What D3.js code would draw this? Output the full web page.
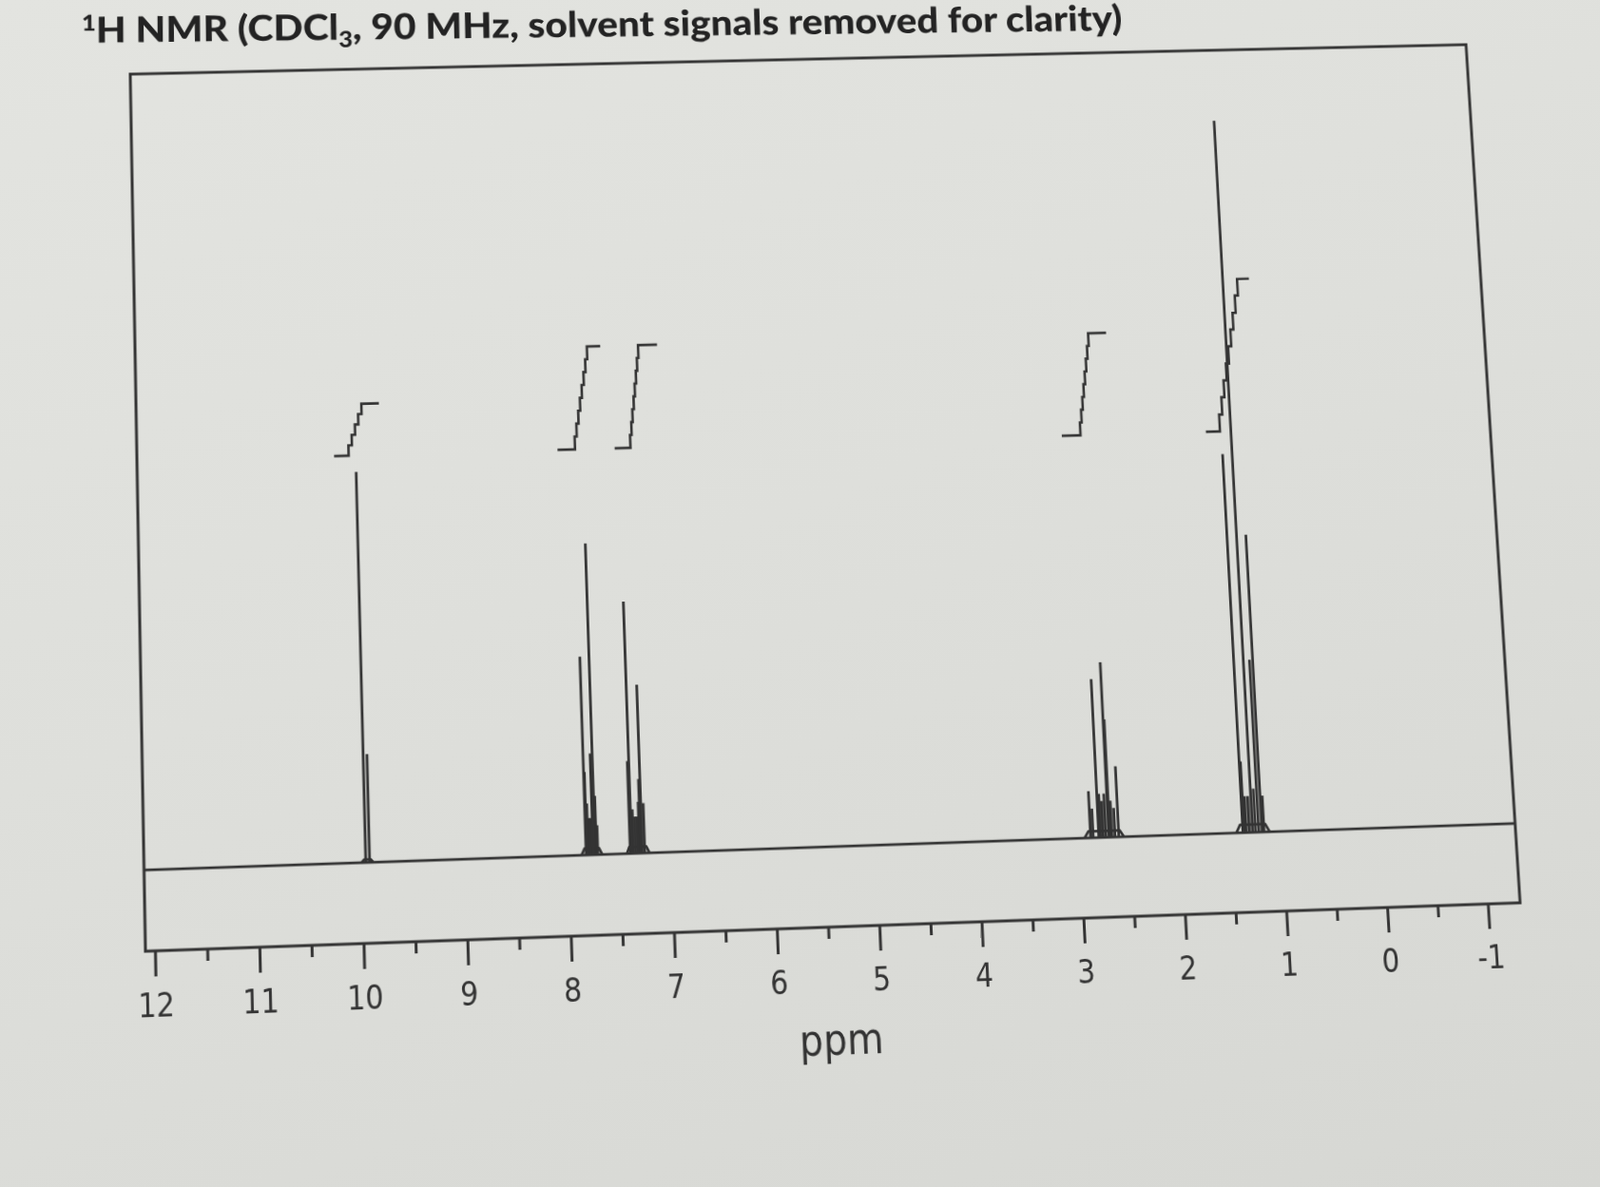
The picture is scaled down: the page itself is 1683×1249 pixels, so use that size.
<!DOCTYPE html>
<html><head><meta charset="utf-8">
<script src="https://cdn.jsdelivr.net/npm/d3@7"></script>
<style>
html,body{margin:0;padding:0;width:1683px;height:1249px;overflow:hidden;}
body{background:linear-gradient(160deg,#e3e4e0 0%,#dedfdb 45%,#d6d7d3 100%);}
#page{position:absolute;left:0;top:0;width:1700px;height:1260px;transform-origin:0 0;}
</style></head>
<body><div id="page"></div>
<script>
// ---------- data ----------
const peakPpm = [
  9.959, 9.922,
  7.826, 7.818, 7.805, 7.79, 7.775, 7.757, 7.737, 7.725, 7.712,
  7.397, 7.383, 7.365, 7.345, 7.325, 7.305, 7.294, 7.280, 7.256,
  2.890, 2.865, 2.809, 2.79, 2.765, 2.74, 2.711, 2.70, 2.68, 2.65, 2.612,
  1.385, 1.372, 1.35, 1.32, 1.289, 1.26, 1.228, 1.196, 1.175
];
const peakHeight = [
  53.5, 14.7,
  27.1, 11.3, 7, 5, 5, 13.8, 42.7, 8, 4,
  12.6, 34.5, 6, 5, 5, 7, 10.1, 23.0, 6.8,
  6.4, 4, 21.8, 6, 5, 6, 24.1, 16.2, 5, 4, 9.7,
  52.6, 9.8, 5, 5, 100, 6, 23.8, 41.2, 5
];
// broad feet under each multiplet: outer-left, inner-left, inner-right, outer-right (ppm), height
const footOuterL = [10.00, 7.87, 7.43, 2.95, 1.45];
const footInnerL = [9.975, 7.84, 7.405, 2.91, 1.41];
const footInnerR = [9.91, 7.70, 7.24, 2.60, 1.16];
const footOuterR = [9.885, 7.67, 7.21, 2.56, 1.12];
const footHeight = [0.4, 0.9, 0.9, 0.9, 1.1];
// integral traces: [ppm, protons]
const intAldehyde = [[10.17,0],[10.028,0.2],[9.994,0.4],[9.96,0.6],[9.926,0.8],[9.892,1],[9.72,1]];
const intArom1 = [[7.98,0],[7.808,0.25],[7.787,0.5],[7.765,0.75],[7.744,1],[7.723,1.25],[7.701,1.5],[7.68,1.75],[7.659,2],[7.527,2]];
const intArom2 = [[7.418,0],[7.262,0.25],[7.246,0.5],[7.231,0.75],[7.215,1],[7.2,1.25],[7.184,1.5],[7.169,1.75],[7.153,2],[6.965,2]];
const intCH2 = [[2.982,0],[2.795,0.25],[2.777,0.5],[2.759,0.75],[2.741,1],[2.723,1.25],[2.705,1.5],[2.687,1.75],[2.669,2],[2.489,2]];
const intCH3 = [[1.54,0],[1.398,0.33],[1.366,0.67],[1.335,1],[1.303,1.33],[1.271,1.67],[1.239,2],[1.208,2.33],[1.176,2.67],[1.144,3],[1.024,3]];
const majorTicks = [12,11,10,9,8,7,6,5,4,3,2,1,0,-1];
const tickLabels = ["12","11","10","9","8","7","6","5","4","3","2","1","0","-1"];
const minorTicks = [11.5,10.5,9.5,8.5,7.5,6.5,5.5,4.5,3.5,2.5,1.5,0.5,-0.5];
const titleMain = "H NMR (CDCl";
const titleRest = ", 90 MHz, solvent signals removed for clarity)";
const xLabel = "ppm";

// ---------- layout (flat page frame) ----------
const X0 = 150, Y0 = 100, W = 1440, H = 920;
const ink = "#333333";
const x = d3.scaleLinear().domain([12, -1]).range([X0 + W*0.006774, X0 + W*0.976]);
const y = d3.scaleLinear().domain([0, 100]).range([Y0 + H*0.91, Y0 + H*0.0839]);
const yInt = d3.scaleLinear().domain([0, 3]).range([Y0 + H*0.449, Y0 + H*(0.449 - 3*0.0592)]);

const svg = d3.select("#page").append("svg").attr("width", 1700).attr("height", 1260);

// title
const title = svg.append("text")
  .attr("x", 99.4).attr("y", Y0 - 35)
  .attr("transform", `rotate(0.57, 99.4, ${Y0 - 35})`)
  .attr("font-family", "Lato, 'Open Sans', sans-serif")
  .attr("font-weight", 900).attr("font-size", 38.5)
  .attr("fill", "#232323")
  .attr("textLength", 1116).attr("lengthAdjust", "spacingAndGlyphs");
title.append("tspan").attr("font-size", 24).attr("dy", -13).text("1");
title.append("tspan").attr("dy", 13).text(titleMain);
title.append("tspan").attr("font-size", 24).attr("dy", 8).text("3");
title.append("tspan").attr("dy", -8).text(titleRest);

// frame
svg.append("rect").attr("x", X0).attr("y", Y0).attr("width", W).attr("height", H)
  .attr("fill", "none").attr("stroke", ink).attr("stroke-width", 3);

// baseline
svg.append("line").attr("x1", X0).attr("x2", X0 + W).attr("y1", y(0)).attr("y2", y(0))
  .attr("stroke", ink).attr("stroke-width", 2.7);

// feet of multiplets
svg.append("g").selectAll("path").data(d3.range(footHeight.length)).join("path")
  .attr("d", i => d3.line()([
    [x(footOuterL[i]), y(0)], [x(footInnerL[i]), y(footHeight[i])],
    [x(footInnerR[i]), y(footHeight[i])], [x(footOuterR[i]), y(0)]
  ]))
  .attr("fill", "none").attr("stroke", ink).attr("stroke-width", 2.7).attr("stroke-linejoin", "round");

// peaks
svg.append("g").selectAll("line").data(d3.range(peakPpm.length)).join("line")
  .attr("x1", i => x(peakPpm[i])).attr("x2", i => x(peakPpm[i]))
  .attr("y1", y(0)).attr("y2", i => y(peakHeight[i]))
  .attr("stroke", ink).attr("stroke-width", 2.8);

// integrals
const intLine = d3.line().x(d => x(d[0])).y(d => yInt(d[1])).curve(d3.curveStepAfter);
svg.append("g").selectAll("path").data([intAldehyde, intArom1, intArom2, intCH2, intCH3]).join("path")
  .attr("d", intLine).attr("fill", "none").attr("stroke", ink).attr("stroke-width", 2.6);

// axis
const gMaj = svg.append("g").attr("transform", `translate(0,${Y0 + H})`)
  .call(d3.axisBottom(x).tickValues(majorTicks).tickSize(26).tickFormat((d, i) => tickLabels[i]));
const gMin = svg.append("g").attr("transform", `translate(0,${Y0 + H})`)
  .call(d3.axisBottom(x).tickValues(minorTicks).tickSize(12).tickFormat(""));
[gMaj, gMin].forEach(g => {
  g.select(".domain").remove();
  g.selectAll(".tick line").attr("stroke", ink).attr("stroke-width", 3);
});
gMaj.selectAll(".tick text")
  .attr("y", 67).attr("dy", null)
  .attr("transform", "scale(0.87,1)")
  .attr("font-family", "'DejaVu Sans', sans-serif").attr("font-size", 34)
  .attr("fill", "#333");

svg.append("text").attr("transform", `translate(${X0 + W/2 - 3},${Y0 + H + 131}) scale(0.87,1)`)
  .attr("text-anchor", "middle")
  .attr("font-family", "'DejaVu Sans', sans-serif").attr("font-size", 45)
  .attr("fill", "#333").text(xLabel);

// ---------- photo perspective (page plane -> screen) ----------
function quadMatrix(P) {
  const [x0, y0] = P[0], [x1, y1] = P[1], [x2, y2] = P[2], [x3, y3] = P[3];
  const dx1 = x1 - x2, dx2 = x3 - x2, dx3 = x0 - x1 + x2 - x3;
  const dy1 = y1 - y2, dy2 = y3 - y2, dy3 = y0 - y1 + y2 - y3;
  const det = dx1*dy2 - dx2*dy1;
  const g = (dx3*dy2 - dx2*dy3)/det, h = (dx1*dy3 - dx3*dy1)/det;
  const a = x1 - x0 + g*x1, b = x3 - x0 + h*x3, c = x0;
  const d = y1 - y0 + g*y1, e = y3 - y0 + h*y3, f = y0;
  const A = a/W, B = b/H, C = c - a*X0/W - b*Y0/H;
  const D = d/W, E = e/H, F = f - d*X0/W - e*Y0/H;
  const G = g/W, Hh = h/H, I = 1 - g*X0/W - h*Y0/H;
  return `matrix3d(${A},${D},0,${G},${B},${E},0,${Hh},0,0,1,0,${C},${F},0,${I})`;
}
const screenCorners = [[137, 78], [1542, 47], [1599, 950], [153, 1001]];
document.getElementById("page").style.transform = quadMatrix(screenCorners);
</script>
</body></html>
